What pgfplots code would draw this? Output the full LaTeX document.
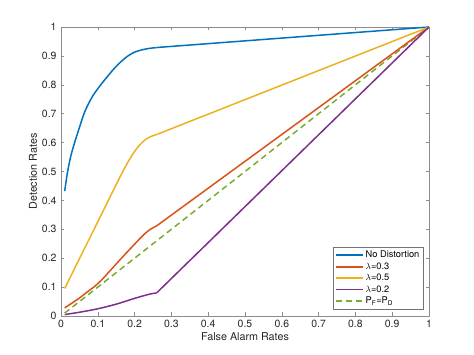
\documentclass[border=0pt]{standalone}
\usepackage{fontspec}
\setmainfont{TeX Gyre Heros}
\usepackage{pgfplots}
\pgfplotsset{compat=1.18}
\definecolor{mblue}{rgb}{0,0.447,0.741}
\definecolor{mred}{rgb}{0.85,0.325,0.098}
\definecolor{myellow}{rgb}{0.929,0.694,0.125}
\definecolor{mpurple}{rgb}{0.494,0.184,0.556}
\definecolor{mgreen}{rgb}{0.466,0.674,0.188}
\begin{document}
\begin{tikzpicture}
\begin{axis}[
  scale only axis,
  width=368bp, height=289bp,
  xmin=0, xmax=1, ymin=0, ymax=1,
  xtick={0,0.1,0.2,0.3,0.4,0.5,0.6,0.7,0.8,0.9,1},
  ytick={0,0.1,0.2,0.3,0.4,0.5,0.6,0.7,0.8,0.9,1},
  /pgf/number format/assume math mode=true,
  /pgf/number format/fixed,
  tick align=inside,
  major tick length=3.5bp,
  axis line style={black!45, line width=0.5bp},
  every tick/.style={black!45, line width=0.5bp},
  tick label style={font=\fontsize{10.5}{12}\selectfont, text=black!85},
  xticklabel style={yshift=-1bp},
  yticklabel style={xshift=-1bp},
  label style={font=\fontsize{10.8}{12}\selectfont, text=black!85},
  xlabel={False Alarm Rates},
  ylabel={Detection Rates},
  xlabel style={yshift=2bp},
  ylabel style={yshift=-2bp},
  legend cell align=left,
  legend style={at={(rel axis cs:0.984,0.024)}, anchor=south east,
    font=\fontsize{9.3}{10.5}\selectfont, draw=black!55, line width=0.5bp,
    inner sep=1.5bp, row sep=-0.6bp},
  legend image code/.code={\draw[#1, line width=1.5bp] (0bp,0bp) -- (27bp,0bp);},
  every axis plot/.append style={line width=1.5bp},
]
\addplot[mblue, smooth, tension=0.5] coordinates {(0.01,0.432)(0.018,0.5)(0.027,0.555)(0.037,0.6)(0.05,0.652)(0.0625,0.7)(0.075,0.735)(0.088,0.765)(0.108,0.8)(0.127,0.83)(0.145,0.857)(0.163,0.88)(0.182,0.9)(0.2,0.913)(0.22,0.921)(0.24,0.926)(0.26,0.929)};
\addlegendentry{No Distortion}
\addplot[mred, smooth, tension=0.55] coordinates {(0.01,0.028)(0.03,0.045)(0.05,0.062)(0.07,0.082)(0.09,0.101)(0.11,0.124)(0.13,0.152)(0.15,0.18)(0.17,0.208)(0.19,0.235)(0.21,0.262)(0.228,0.285)(0.243,0.3)(0.26,0.312)};
\addlegendentry{$\lambda$=0.3}
\addplot[myellow, smooth, tension=0.55] coordinates {(0.01,0.095)(0.05,0.198)(0.1,0.326)(0.15,0.455)(0.17,0.505)(0.19,0.55)(0.205,0.578)(0.22,0.6)(0.235,0.615)(0.25,0.624)(0.26,0.628)};
\addlegendentry{$\lambda$=0.5}
\addplot[mpurple, smooth, tension=0.55] coordinates {(0.01,0.005)(0.05,0.013)(0.1,0.025)(0.15,0.041)(0.2,0.061)(0.23,0.072)(0.246,0.077)(0.26,0.08)};
\addlegendentry{$\lambda$=0.2}
\addplot[mgreen, dash pattern=on 6bp off 4bp] coordinates {(0.01,0.01)(1,1)};
\addlegendentry{P\textsubscript{F}=P\textsubscript{D}}
\addplot[mblue, forget plot] coordinates {(0.26,0.929)(1,1)};
\addplot[mred, forget plot] coordinates {(0.26,0.312)(1,1)};
\addplot[myellow, forget plot] coordinates {(0.26,0.628)(1,1)};
\addplot[mpurple, forget plot] coordinates {(0.26,0.08)(1,1)};
\end{axis}
\path (current axis.south west) ++(-61bp,-39bp) coordinate (bl);
\path (current axis.north east) ++(45bp,27bp) coordinate (tr);
\path (bl) rectangle (tr);
\end{tikzpicture}
\end{document}
